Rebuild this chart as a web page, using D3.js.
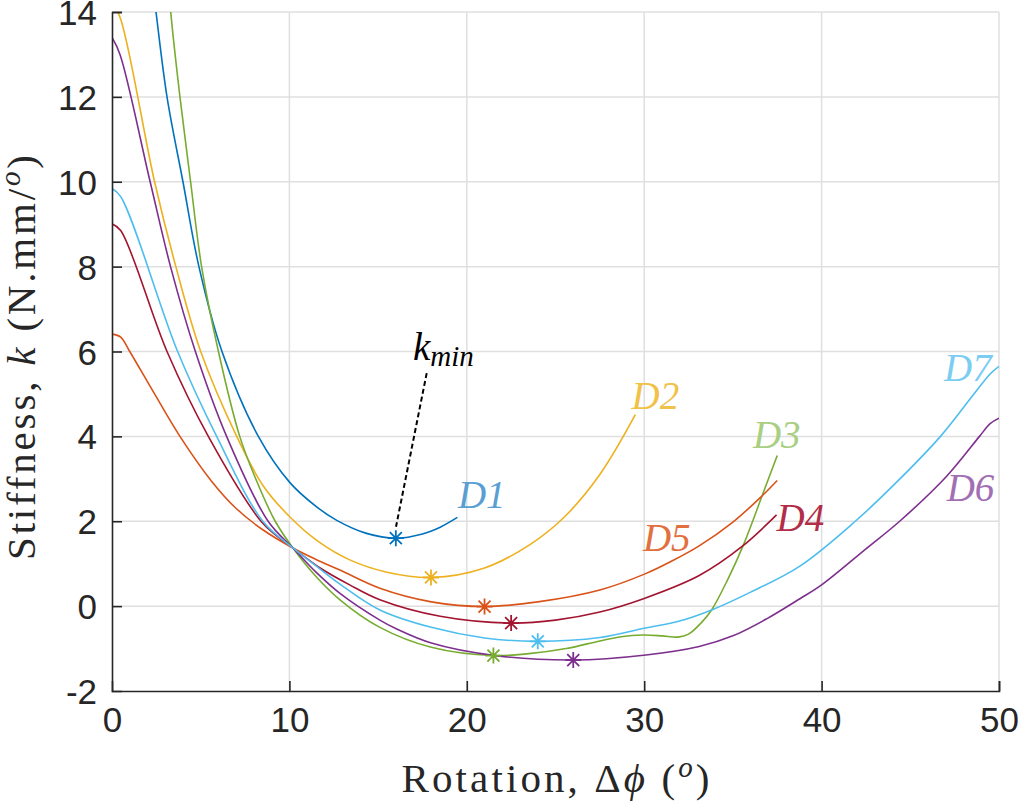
<!DOCTYPE html>
<html>
<head>
<meta charset="utf-8">
<script src="https://cdn.jsdelivr.net/npm/d3@7"></script>
<style>
body { margin: 0; background: #fff; }
</style>
</head>
<body>
<div id="chart"></div>
<script>
var d1 = [[2.3,14.6],[2.48,14],[3.1,12],[4.0,10],[4.9,8],[6.2,6],[8.25,4],[10.03,2.91],[11.5,2.35],[12.67,2.02],[14.3,1.72],[16,1.6],[17.5,1.7],[18.5,1.86],[19.47,2.09]]
var d2 = [[0,14.25],[0.49,13.83],[2.4,10],[3.6,8],[5.0,6],[7.03,4],[8.5,2.85],[10.03,2.1],[11.7,1.5],[13.4,1.09],[15.5,0.8],[18,0.675],[21,0.9],[23.56,1.45],[25.5,2.1],[27.5,3.1],[29.5,4.51]]
var d3s = [[3.2,14.6],[3.31,14],[3.83,12],[4.43,10],[5.05,8],[6.0,6],[7.2,4],[8.1,3.0],[9.2,2.0],[10.2,1.37],[11.5,0.7],[12.85,0.15],[15.1,-0.5],[18,-0.97],[21.5,-1.165],[23.5,-1.12],[25.6,-1.0],[27.5,-0.82],[28.7,-0.72],[29.9,-0.68],[31.0,-0.7],[31.9,-0.73],[32.5,-0.66],[33.2,-0.4],[33.8,-0.09],[34.7,0.62],[35.6,1.45],[36.7,2.66],[37.5,3.55]]
var d4 = [[0,9.01],[0.49,8.85],[3.1,6],[5.43,4],[8.4,2.0],[9.3,1.65],[10.2,1.37],[11.8,0.88],[13.4,0.5],[15.1,0.15],[18.5,-0.24],[22.5,-0.4],[25,-0.33],[27.5,-0.14],[30,0.18],[33.1,0.72],[35.5,1.4],[37.46,2.15]]
var d5 = [[0,6.41],[0.49,6.34],[1.0,6.0],[2.4,5.0],[3.83,4.0],[5.6,2.95],[7.0,2.3],[8.5,1.8],[10.2,1.37],[11.5,1.1],[12.85,0.85],[15.1,0.42],[18,0.1],[21,-0.01],[24,0.1],[27.5,0.38],[30.05,0.76],[31.5,1.05],[33.1,1.42],[35,1.98],[36.6,2.58],[37.5,2.96]]
var d6 = [[0,13.4],[0.45,13.0],[2.15,10],[3.3,8],[4.7,6],[6.46,4],[8.8,2.0],[10.2,1.37],[11.5,0.8],[12.85,0.3],[15.1,-0.33],[16.05,-0.54],[18,-0.87],[21.5,-1.16],[26,-1.27],[30.1,-1.15],[33.1,-0.95],[35,-0.7],[36.9,-0.3],[38.8,0.18],[40,0.5],[42.5,1.35],[44.4,2.0],[47.05,3.06],[48.9,4.0],[49.5,4.3],[50,4.43]]
var d7 = [[0,9.84],[0.49,9.65],[3.7,6],[5.9,4],[8.5,2.0],[10.2,1.37],[11.5,0.95],[12.85,0.52],[15.1,-0.09],[18,-0.5],[21,-0.75],[24,-0.83],[27.5,-0.74],[30,-0.52],[32,-0.35],[33.8,-0.09],[36,0.33],[38.8,0.95],[41.9,2.0],[44.3,2.95],[46.7,4],[48.5,4.95],[49.5,5.47],[50,5.65]]

// minimum stiffness points (stars)
var minD1 = [16, 1.6]
var minD2 = [17.98, 0.675]
var minD3 = [21.5, -1.165]
var minD4 = [22.5, -0.4]
var minD5 = [21, -0.01]
var minD6 = [26, -1.27]
var minD7 = [24, -0.83]

var names = ["D1", "D2", "D3", "D4", "D5", "D6", "D7"]
var xTicks = [0, 10, 20, 30, 40, 50]
var yTicks = [-2, 0, 2, 4, 6, 8, 10, 12, 14]

var series = [
    {name: names[0], data: d1, min: minD1, color: "#0072BD", text: "#5A9FD4", lab: [19.5, 2.31]},
    {name: names[1], data: d2, min: minD2, color: "#EDB120", text: "#F0C24A", lab: [29.29, 4.64]},
    {name: names[2], data: d3s, min: minD3, color: "#77AC30", text: "#A9CF82", lab: [36.13, 3.73]},
    {name: names[3], data: d4, min: minD4, color: "#A2142F", text: "#B22D48", lab: [37.46, 1.77]},
    {name: names[4], data: d5, min: minD5, color: "#D95319", text: "#E2703F", lab: [29.93, 1.30]},
    {name: names[5], data: d6, min: minD6, color: "#7E2F8E", text: "#A26FB4", lab: [47.05, 2.48]},
    {name: names[6], data: d7, min: minD7, color: "#4DBEEE", text: "#7CCDF2", lab: [46.9, 5.30]}
]

var W = 1025, H = 803
var margin = {top: 12, right: 26, bottom: 112, left: 112}
var width = W - margin.left - margin.right,
    height = H - margin.top - margin.bottom

var svg = d3.select("#chart").append("svg")
    .attr("width", W)
    .attr("height", H)

var x = d3.scaleLinear().domain([0, 50]).range([0, width])
var y = d3.scaleLinear().domain([-2, 14]).range([height, 0])

var g = svg.append("g")
    .attr("transform", "translate(" + margin.left + "," + margin.top + ")")

svg.append("defs").append("clipPath").attr("id", "plotclip")
    .append("rect").attr("width", width).attr("height", height)

// grid
g.append("g").selectAll("line")
    .data(xTicks.slice(1))
    .enter().append("line")
    .attr("x1", d => x(d)).attr("x2", d => x(d))
    .attr("y1", 0).attr("y2", height)
    .attr("stroke", "#dfdfdf").attr("stroke-width", 1.5)
g.append("g").selectAll("line")
    .data(yTicks.slice(1))
    .enter().append("line")
    .attr("y1", d => y(d)).attr("y2", d => y(d))
    .attr("x1", 0).attr("x2", width)
    .attr("stroke", "#dfdfdf").attr("stroke-width", 1.5)

// curves
var line = d3.line()
    .x(d => x(d[0]))
    .y(d => y(d[1]))
    .curve(d3.curveCatmullRom.alpha(0.5))

var plot = g.append("g").attr("clip-path", "url(#plotclip)")
plot.selectAll("path.curve")
    .data(series)
    .enter().append("path")
    .attr("class", "curve")
    .attr("d", d => line(d.data))
    .attr("fill", "none")
    .attr("stroke", d => d.color)
    .attr("stroke-width", 1.6)

// asterisk markers at the minima
var r = 8, rd = 6
var star = "M0," + (-r) + "L0," + r + "M" + (-r) + ",0L" + r + ",0" +
    "M" + (-rd) + "," + (-rd) + "L" + rd + "," + rd + "M" + (-rd) + "," + rd + "L" + rd + "," + (-rd)
plot.selectAll("path.star")
    .data(series)
    .enter().append("path")
    .attr("class", "star")
    .attr("d", star)
    .attr("transform", d => "translate(" + x(d.min[0]) + "," + y(d.min[1]) + ")")
    .attr("fill", "none")
    .attr("stroke", d => d.color)
    .attr("stroke-width", 1.8)

// curve labels
g.selectAll("text.lab")
    .data(series)
    .enter().append("text")
    .attr("class", "lab")
    .attr("x", d => x(d.lab[0]))
    .attr("y", d => y(d.lab[1]))
    .attr("fill", d => d.text)
    .style("font-family", "'Liberation Serif', serif")
    .style("font-style", "italic")
    .style("font-size", "39px")
    .text(d => d.name)

// k_min annotation
g.append("line")
    .attr("x1", x(17.74)).attr("y1", y(5.49))
    .attr("x2", x(16.01)).attr("y2", y(1.87))
    .attr("stroke", "#000").attr("stroke-width", 2)
    .attr("stroke-dasharray", "5,3")
var kmin = g.append("text")
    .attr("x", x(16.97)).attr("y", y(5.80))
    .style("font-family", "'Liberation Serif', serif")
    .style("font-style", "italic")
    .style("font-size", "39px")
    .attr("fill", "#000")
kmin.append("tspan").text("k")
kmin.append("tspan").attr("dy", 6).style("font-size", "29px").text("min")

// axes
var axisColor = "#262626"
var xAxis = g.append("g").attr("transform", "translate(0," + height + ")")
    .call(d3.axisBottom(x).tickValues(xTicks).tickSize(-10).tickPadding(16).tickFormat(d => String(d)))
var yAxis = g.append("g")
    .call(d3.axisLeft(y).tickValues(yTicks).tickSize(-10).tickPadding(15).tickFormat(d => String(d)))
;[xAxis, yAxis].forEach(function(a) {
    a.select(".domain").attr("stroke", axisColor).attr("stroke-width", 1.6)
    a.selectAll(".tick line").attr("stroke", axisColor).attr("stroke-width", 1.6)
    a.selectAll(".tick text")
        .attr("fill", axisColor)
        .style("font-family", "'Liberation Sans', Arial, sans-serif")
        .style("font-size", "35px")
})
xAxis.selectAll(".tick text").attr("dy", "0.71em")
yAxis.selectAll(".tick text").attr("dy", "0.36em")
xAxis.selectAll(".tick").filter(d => d === 0).select("line").remove()
yAxis.selectAll(".tick").filter(d => d === -2).select("line").remove()

// axis titles
var xl = svg.append("text")
    .attr("x", margin.left + width / 2)
    .attr("y", 792)
    .attr("text-anchor", "middle")
    .attr("textLength", 308)
    .attr("lengthAdjust", "spacing")
    .attr("fill", axisColor)
    .style("font-family", "'Liberation Serif', serif")
    .style("font-size", "41px")
xl.append("tspan").text("Rotation, Δ")
xl.append("tspan").style("font-style", "italic").text("ϕ")
xl.append("tspan").text(" (")
xl.append("tspan").style("font-style", "italic").style("font-size", "29px").attr("dy", -15).text("o")
xl.append("tspan").attr("dy", 15).text(")")

var yl = svg.append("text")
    .attr("transform", "translate(35," + (margin.top + height / 2 + 6) + ") rotate(-90)")
    .attr("text-anchor", "middle")
    .attr("textLength", 405)
    .attr("lengthAdjust", "spacing")
    .attr("fill", axisColor)
    .style("font-family", "'Liberation Serif', serif")
    .style("font-size", "41px")
yl.append("tspan").text("Stiffness, ")
yl.append("tspan").style("font-style", "italic").text("k")
yl.append("tspan").text(" (N.mm/")
yl.append("tspan").style("font-style", "italic").style("font-size", "29px").attr("dy", -15).text("o")
yl.append("tspan").attr("dy", 15).text(")")
</script>
</body>
</html>
